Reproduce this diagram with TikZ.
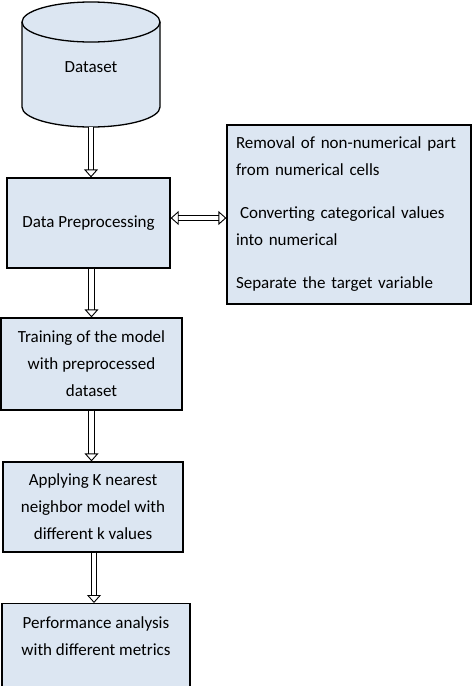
\documentclass[tikz,border=0pt]{standalone}
\usepackage{fontspec}
\setmainfont{Carlito}
\usepackage{tikz}
\usetikzlibrary{shapes,arrows.meta,positioning,calc}
\definecolor{boxblue}{RGB}{220,230,242}
\newcommand\Stagetext[3]{%
  \parbox[t][#1][t]{#2}{\centering #3}}
\tikzset{
  stage/.style={
    draw,
    line width=1.3pt,
    fill=boxblue,
    align=center,
    inner sep=2pt,
    font=\fontsize{17}{27}\selectfont,
  },
  hollow/.style={
    draw,
    line width=0.9pt,
    double=white,
    double distance=4.5pt,
    -{Triangle[open,length=8pt,width=14pt]},
  }}

\begin{document}
\begin{tikzpicture}[x=1pt,y=-1pt]
        \clip (0,0) rectangle (474,686);

        % Dataset drum
        \filldraw [line width=1.3pt, fill=boxblue]
          (22,22) -- (22,107) arc [start angle=180, end angle=360, x radius=69pt, y radius=20pt]
          -- (160,22) arc [start angle=0, end angle=180, x radius=69pt, y radius=20pt] -- cycle;
        \draw [line width=1.3pt]
          (22,22) arc [start angle=180, end angle=360, x radius=69pt, y radius=20pt];
        \node (dataset) [font=\fontsize{17}{27}\selectfont] at (91,67) {Dataset};
        \coordinate (dsbottom) at (91,127);

        % Main stages
        \node (prep) [stage, minimum width=163pt, minimum height=90pt] at (88.5,223) {Data Preprocessing};
        \node (notes) [stage, align=left, text width=226pt, inner xsep=9pt,
          minimum height=179pt] at (349,214.5) {
          Removal of non-numerical part\\
          from numerical cells\\[16pt]
          \hspace{4pt}Converting categorical values\\
          into numerical\\[16pt]
          Separate the target variable
        };
        \node (train) [stage, minimum width=181pt, minimum height=92pt] at (91.5,364) {
          Training of the model\\with preprocessed\\dataset};
        \node (knn) [stage, minimum width=180pt, minimum height=90pt] at (93,507) {
          Applying K nearest\\neighbor model with\\different k values};
        \node (perf) [stage, anchor=north, inner ysep=13pt] at (96,603) {
          \Stagetext{100pt}{184pt}{Performance analysis\\with different metrics}};

        % Arrows
        \draw [hollow] (dsbottom) -- (dsbottom |- prep.north);
        \draw [hollow, {Triangle[open,length=8pt,width=14pt]}-{Triangle[open,length=8pt,width=14pt]}]
          ([yshift=5pt]prep.east) -- ([yshift=5pt]prep.east -| notes.west);
        \draw [hollow] (prep.south -| train.north) -- (train.north);
        \draw [hollow] (train.south) -- (train.south |- knn.north);
        \draw [hollow] ([xshift=1pt]knn.south) -- ([xshift=1pt]knn.south |- perf.north);

\end{tikzpicture}
\end{document}
